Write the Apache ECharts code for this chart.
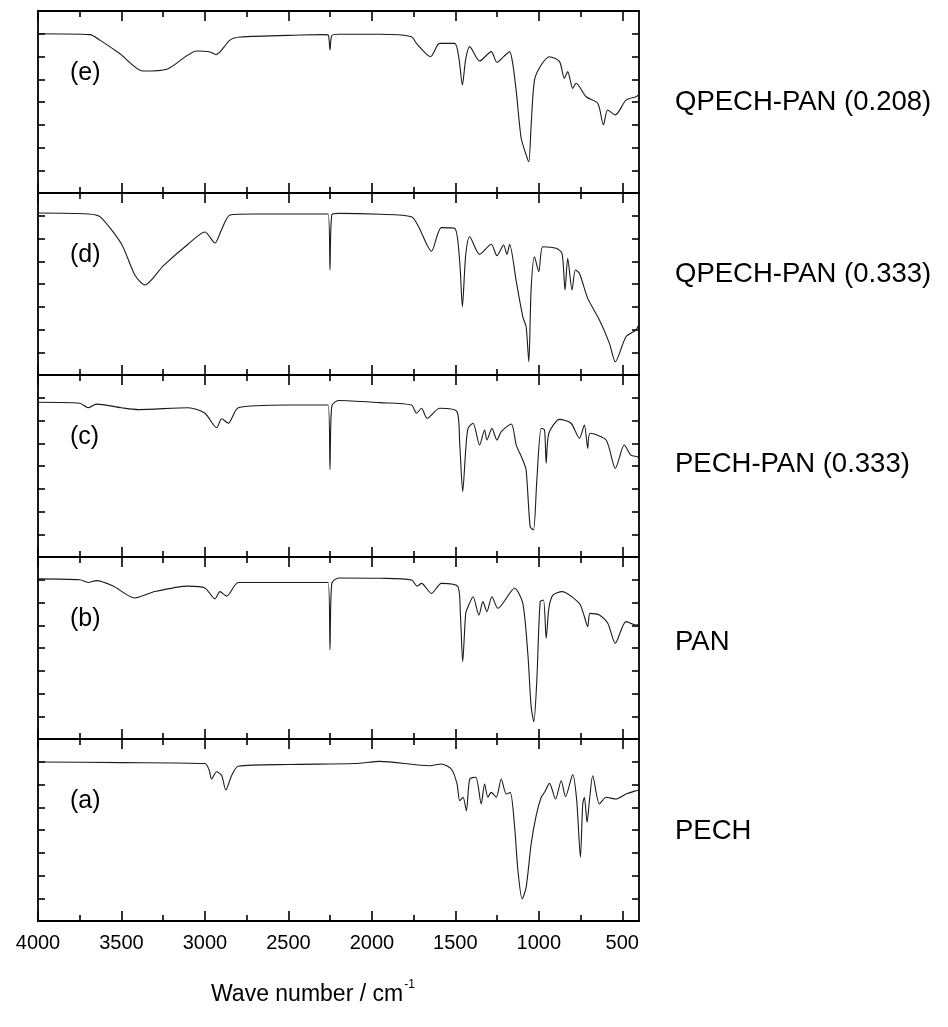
<!DOCTYPE html>
<html><head><meta charset="utf-8">
<script src="https://cdn.jsdelivr.net/npm/echarts@6/dist/echarts.min.js"></script>
<style>html,body{margin:0;padding:0;background:#fff}#c{width:948px;height:1027px}</style>
</head><body><div id="c"></div>
<script>
const panelNames = ["QPECH-PAN (0.208)", "QPECH-PAN (0.333)", "PECH-PAN (0.333)", "PAN", "PECH"];
const panelTags = ["(e)", "(d)", "(c)", "(b)", "(a)"];
const xMajorTicks = [4000, 3500, 3000, 2500, 2000, 1500, 1000, 500];
const xMinorTicks = [3750, 3250, 2750, 2250, 1750, 1250, 750];
const axisTitle = "Wave number / cm";

const specE = [[4000,87.5],[3689,87],[3629,84],[3509,76.5],[3371,67],[3228,68],[3048,78],[2970,77.5],[2934,76],[2850,84],[2790,85.7],[2431,86.8],[2293,87],[2262,86.8],[2251,78.6],[2240,86.5],[2200,87.2],[1952,87.2],[1763,85.9],[1733,82.2],[1649,74.9],[1594,82.2],[1504,82.2],[1478,73.6],[1458,59.3],[1438,73.6],[1414,80.4],[1355,72.5],[1285,77.7],[1251,71.8],[1211,74.9],[1175,77.7],[1155,70.3],[1135,55.7],[1106,30.2],[1076,20.9],[1060,17.2],[1046,37.4],[1026,62],[986,70.3],[936,74.9],[876,72.2],[847,63],[827,66.7],[797,57.5],[777,60.3],[717,52.9],[647,49.3],[613,37.4],[588,45.6],[542,42.9],[478,51],[418,52.9],[400,54]];
const specD = [[4000,89],[3700,88.5],[3629,87],[3500,72],[3420,55],[3360,49.5],[3250,60],[3100,72],[3000,78.6],[2940,72.5],[2900,80],[2850,87.9],[2700,88.5],[2262,88.5],[2251,57.7],[2240,88],[2200,88.8],[1952,88.3],[1763,87],[1723,82],[1643,68],[1584,81],[1504,80.6],[1474,62.3],[1458,37.5],[1438,65.9],[1414,76],[1355,66.3],[1285,71.8],[1251,65.6],[1211,71.4],[1191,66.3],[1175,71.8],[1135,51.3],[1096,32],[1076,26.5],[1060,7.3],[1046,47.6],[1026,65],[1000,56.8],[976,70.5],[896,69.6],[861,66.8],[843,46.7],[827,64.1],[801,46.7],[781,57.7],[757,55.9],[707,42.1],[637,30.2],[577,17.4],[542,7.3],[478,21],[418,24.7],[400,28]];
const specC = [[4000,85],[3750,84.5],[3700,82],[3650,84],[3500,82],[3400,81],[3100,82],[3000,79],[2930,71],[2900,76],[2860,73.5],[2800,82],[2500,83.5],[2262,83.5],[2251,48],[2240,83],[2200,86],[1952,84.8],[1763,83.5],[1733,79],[1703,81.7],[1669,76.2],[1594,81.7],[1490,79.8],[1474,62.5],[1456,35.9],[1438,58.8],[1424,70.7],[1394,73.5],[1355,61.5],[1325,69.8],[1311,64.3],[1281,70.7],[1251,64.3],[1225,68.9],[1165,73.1],[1135,61.5],[1096,53.3],[1076,47.8],[1052,16.7],[1032,14.8],[1012,42.3],[986,70.7],[966,69.8],[956,51.5],[940,68],[876,75.6],[807,73.5],[757,65.2],[727,72.5],[707,59.7],[693,68],[597,64.3],[542,48.7],[488,61.5],[448,56],[408,55],[400,54]];
const specB = [[4000,88],[3750,87.5],[3700,86],[3650,87],[3550,84],[3420,77.5],[3300,81],[3100,84],[3000,83],[2940,77],[2910,81],[2870,78.5],[2800,86],[2500,86],[2262,86],[2251,49],[2240,85.5],[2200,88.5],[1952,88.3],[1763,87.4],[1729,84],[1703,85.5],[1643,80],[1584,85.5],[1484,83.7],[1470,69],[1456,42.5],[1438,69],[1424,72.7],[1394,78.2],[1359,68.1],[1335,75.5],[1311,70],[1281,78.2],[1245,71.8],[1145,82.8],[1096,74.5],[1066,47],[1046,17.8],[1030,9.5],[1012,32.4],[992,75.5],[972,76.4],[956,55.3],[940,71.8],[916,79.1],[861,81],[757,74.5],[733,69],[707,61.7],[693,69],[637,68.1],[587,63.6],[542,52.6],[478,64.5],[418,62.6],[400,63]];
const specA = [[4000,87.4],[3500,87],[3000,86.5],[2975,83],[2960,78],[2930,82],[2900,80],[2875,72],[2840,80],[2800,85],[2500,86],[2100,86.5],[1952,87.7],[1653,85.3],[1584,86.3],[1524,83.5],[1490,75.3],[1474,66.1],[1454,68],[1434,60.6],[1414,78],[1378,79],[1345,64.3],[1325,75.3],[1305,68],[1285,70.7],[1255,68],[1225,78],[1195,69.8],[1171,70.7],[1145,51.5],[1125,27.6],[1100,12.1],[1076,18.5],[1046,42.3],[1016,57.9],[986,68],[966,70.7],[936,75.6],[900,67],[866,77.1],[840,68.3],[797,80.4],[773,66.1],[751,35],[737,64.3],[727,68],[711,54.2],[697,66.1],[677,79.8],[637,64.3],[597,68],[538,67],[478,69.8],[418,71.6],[400,72]];
const spectra = [specE, specD, specC, specB, specA];

const TOP = 11, H = 182, LEFT = 38, W = 601;
const grids = [], xAxes = [], yAxes = [], series = [], graphics = [];
const axColor = '#000';
for (let i = 0; i < 5; i++) {
  grids.push({left: LEFT, top: TOP + H * i, width: W, height: H});
  const last = i === 4;
  const base = {type: 'value', min: 400, max: 4000, inverse: true, gridIndex: i, splitLine: {show: false}};
  xAxes.push(Object.assign({}, base, {position: 'bottom',
    axisLine: {show: true, lineStyle: {color: axColor, width: 1.8}},
    axisTick: {show: true, inside: true, length: 10, lineStyle: {color: axColor, width: 1.6}, customValues: xMajorTicks},
    axisLabel: {show: last, customValues: xMajorTicks, formatter: v => String(v), color: '#000', fontSize: 20, fontFamily: 'Liberation Sans', margin: 12}}));
  xAxes.push(Object.assign({}, base, {position: 'bottom',
    axisLine: {show: false},
    axisTick: {show: true, inside: true, length: 6, lineStyle: {color: axColor, width: 1.6}, customValues: xMinorTicks},
    axisLabel: {show: false}}));
  xAxes.push(Object.assign({}, base, {position: 'top',
    axisLine: {show: true, lineStyle: {color: axColor, width: 1.8}},
    axisTick: {show: true, inside: true, length: 10, lineStyle: {color: axColor, width: 1.6}, customValues: xMajorTicks},
    axisLabel: {show: false}}));
  xAxes.push(Object.assign({}, base, {position: 'top',
    axisLine: {show: false},
    axisTick: {show: true, inside: true, length: 6, lineStyle: {color: axColor, width: 1.6}, customValues: xMinorTicks},
    axisLabel: {show: false}}));
  ['left', 'right'].forEach(p => yAxes.push({type: 'value', gridIndex: i, min: 0, max: 100, interval: 12.5, position: p,
    axisLine: {show: true, lineStyle: {color: axColor, width: 1.8}},
    axisTick: {show: true, inside: true, length: 7, lineStyle: {color: axColor, width: 1.6}},
    axisLabel: {show: false}, splitLine: {show: false}}));
  series.push({type: 'line', xAxisIndex: i * 4, yAxisIndex: i * 2, data: spectra[i], showSymbol: false, smooth: 0.25,
    lineStyle: {color: '#1a1a1a', width: 1.1}, animation: false});
  graphics.push({type: 'text', left: 70, top: TOP + H * i + 50, style: {text: panelTags[i], font: '25px "Liberation Sans"', fill: '#000'}});
  const ry = [88, 260, 450, 628, 817][i];
  graphics.push({type: 'text', left: 675, top: ry, style: {text: panelNames[i], font: '27.5px "Liberation Sans"', fill: '#000'}});
}
graphics.push({type: 'text', left: 211, top: 983, style: {text: axisTitle, font: '23px "Liberation Sans"', fill: '#000'}});
graphics.push({type: 'text', left: 0, top: 979, style: {text: '-1', font: '13px "Liberation Sans"', fill: '#000'}, id: 'sup'});

const chart = echarts.init(document.getElementById('c'));
chart.setOption({animation: false, grid: grids, xAxis: xAxes, yAxis: yAxes, series: series, graphic: graphics});
const tw = echarts.format.getTextRect ? echarts.format.getTextRect(axisTitle, '23px "Liberation Sans"').width : 190;
chart.setOption({graphic: [{id: 'sup', left: 211 + tw + 1}]});
</script></body></html>
